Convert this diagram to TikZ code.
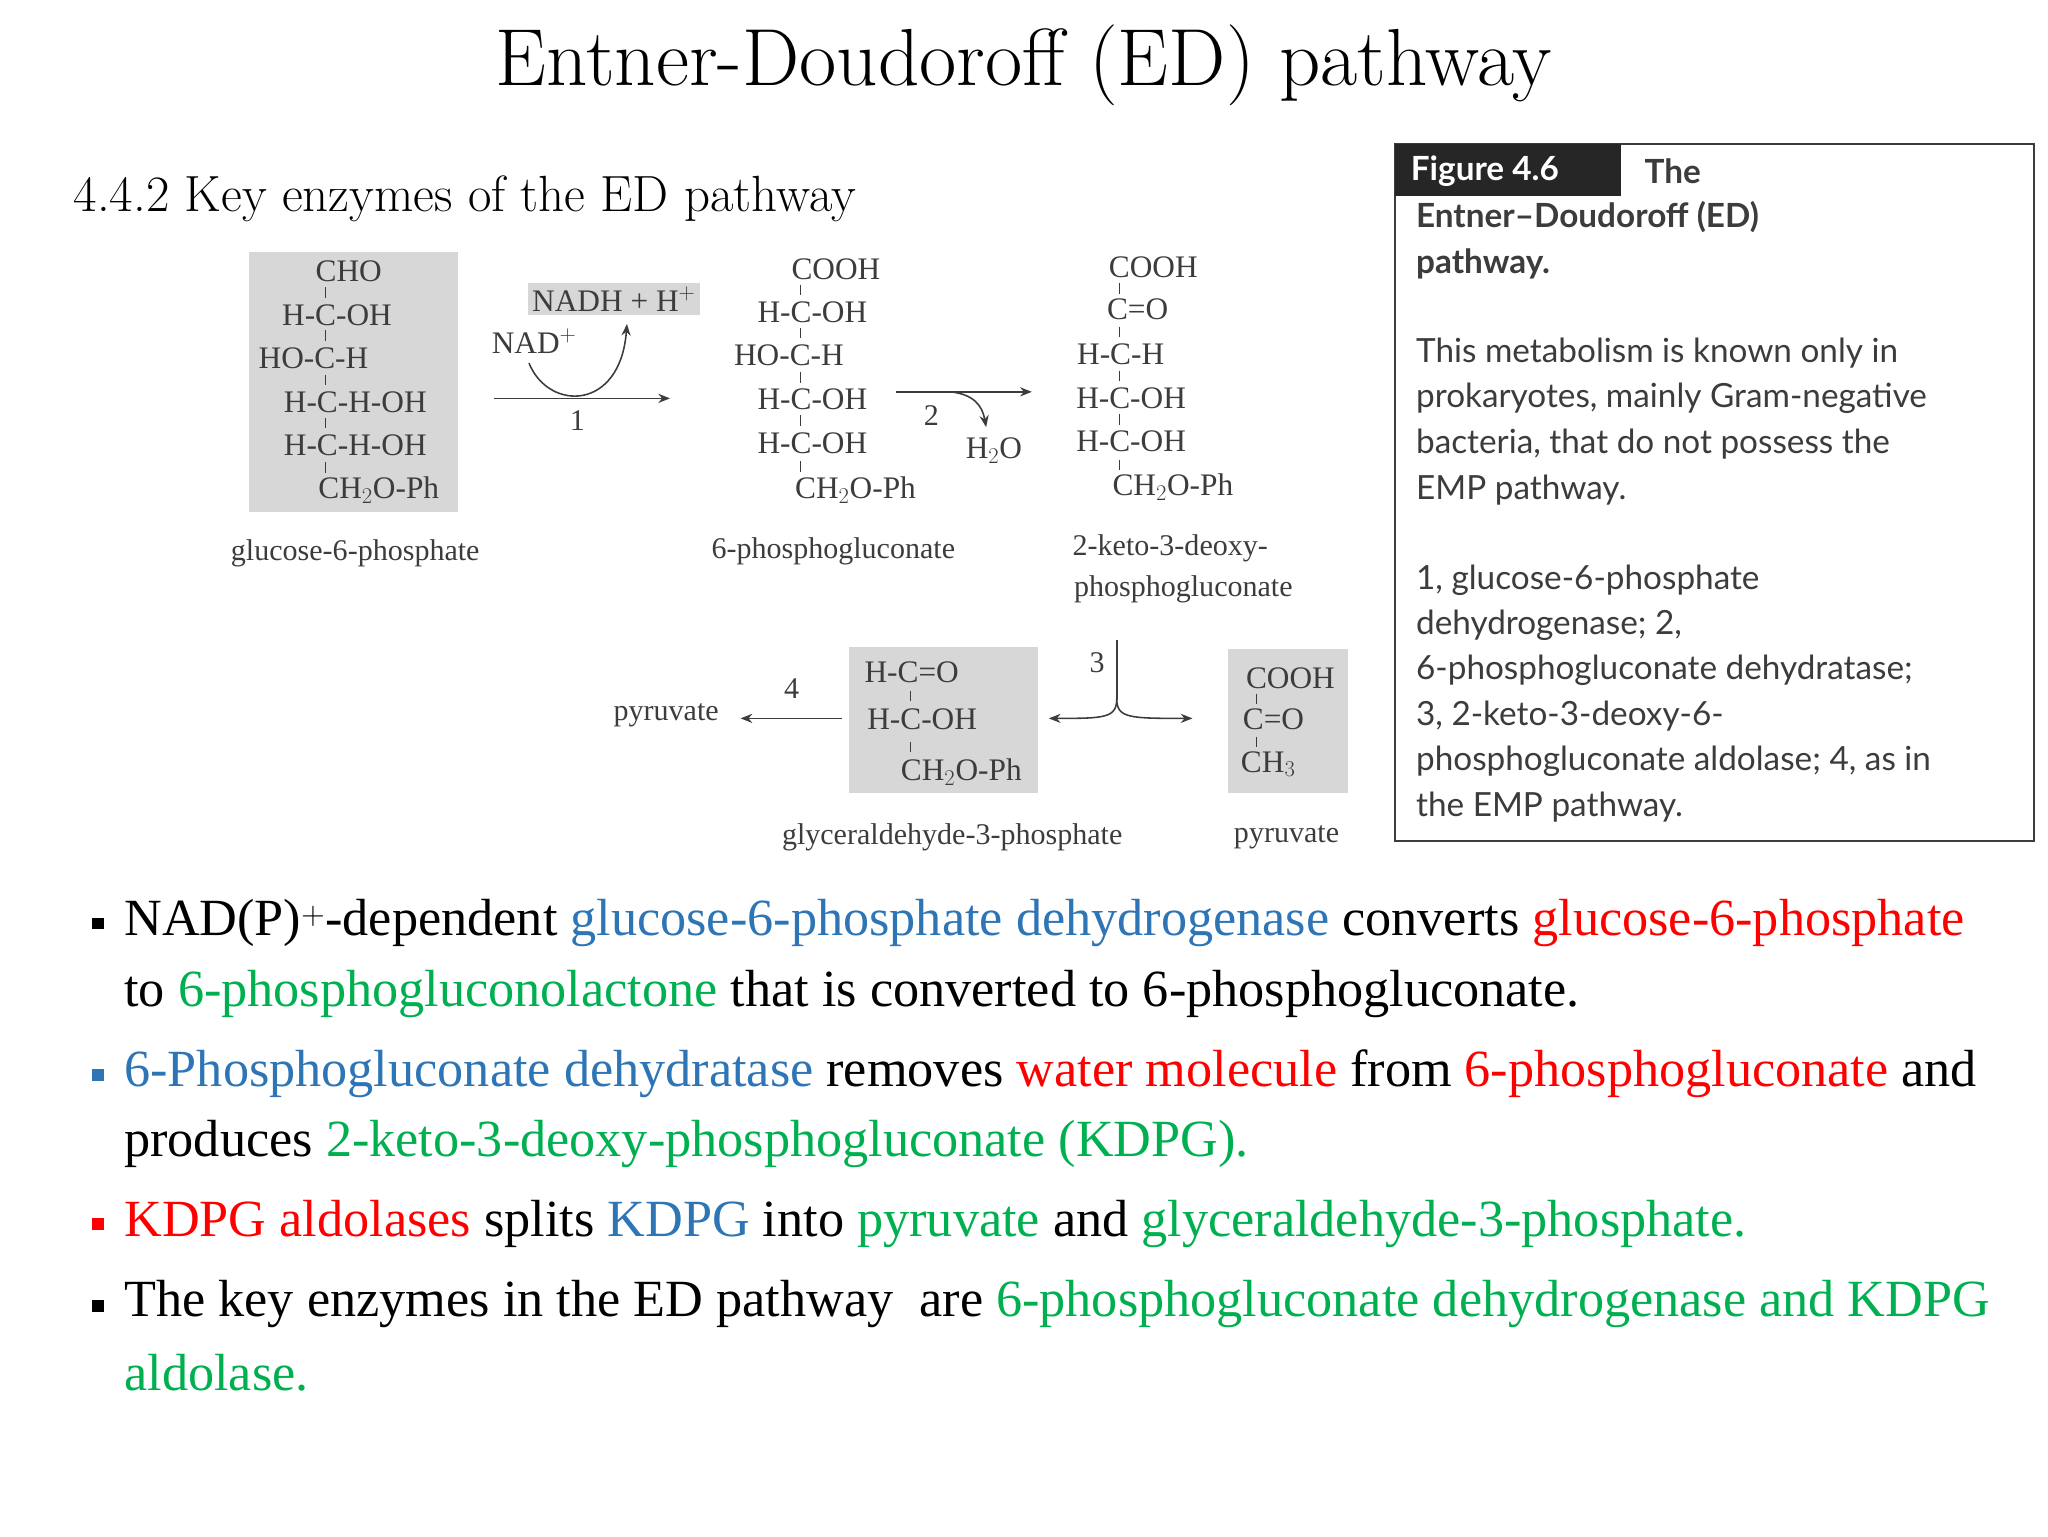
\documentclass[tikz,border=0pt]{standalone}
\usepackage{fontspec}
\setmainfont{Liberation Serif}
\newfontfamily\capfont{Lato}
\newfontfamily\headfont{Latin Modern Roman}
\definecolor{cblue}{RGB}{46,117,182}
\definecolor{cred}{RGB}{255,0,0}
\definecolor{cgreen}{RGB}{0,176,80}
\definecolor{chemgray}{RGB}{215,215,215}
\definecolor{txtgray}{RGB}{60,60,60}
\usetikzlibrary{arrows.meta}
\tikzset{
 chem/.style={font=\fontsize{24}{24}\selectfont, text=txtgray, inner sep=0pt},
 lbl/.style={font=\fontsize{23}{23}\selectfont, text=txtgray, inner sep=0pt},
 gbox/.style={fill=chemgray, draw=none},
 arr/.style={-{Stealth[length=9pt,width=7pt]}, line width=1.2pt, draw=txtgray},
 captxt/.style={font=\capfont\fontsize{25.5}{25.5}\selectfont, text=txtgray, anchor=west, inner sep=0pt},
 capbold/.style={captxt, font=\capfont\bfseries\fontsize{25.5}{25.5}\selectfont},
 bl/.style={font=\fontsize{40}{40}\selectfont, anchor=west, inner sep=0pt},
 bul/.style={fill=black, minimum size=9pt, inner sep=0pt},
}
\begin{document}
\begin{tikzpicture}[x=1pt,y=-1pt]
\useasboundingbox (0,0) rectangle (1568,1176);
\node[font=\headfont\fontsize{62}{62}\selectfont] (title) at (784,50) {Entner-Doudoroff (ED) pathway};
\node[font=\headfont\fontsize{39}{39}\selectfont, anchor=west] (head) at (53,152) {4.4.2 Key enzymes of the ED pathway};
% glucose-6-phosphate
\fill[gbox] (191,193) rectangle (351,392);
\node[chem] (g1) at (267,208) {CHO};
\node[chem] (g2) at (258,241) {H-C-OH};
\node[chem] (g3) at (240,274) {HO-C-H};
\node[chem] (g4) at (272,308) {H-C-H-OH};
\node[chem] (g5) at (272,341) {H-C-H-OH};
\node[chem] (g6) at (290,375) {CH$_2$O-Ph};
\foreach \y in {224,257,291,324,358} \draw[txtgray] (249,\y-4) -- (249,\y+4);
\node[lbl] (gl) at (272,424) {glucose-6-phosphate};
% step 1
\coordinate (a1s) at (378,305); \coordinate (a1e) at (513,305);
\draw[arr] (a1s) -- (a1e);
\node[lbl] (n1) at (442,322) {1};
\node[chem] (nad) at (409,261) {NAD$^+$};
\node[chem, fill=chemgray, inner sep=3pt] (nadh) at (470,229) {NADH + H$^+$};
\draw[arr] (405,278) .. controls (420,315) and (475,315) .. (480,248);
% 6-phosphogluconate
\node[chem] (p1) at (640,206) {COOH};
\node[chem] (p2) at (622,239) {H-C-OH};
\node[chem] (p3) at (604,272) {HO-C-H};
\node[chem] (p4) at (622,306) {H-C-OH};
\node[chem] (p5) at (622,339) {H-C-OH};
\node[chem] (p6) at (655,375) {CH$_2$O-Ph};
\foreach \y in {222,255,289,322,357} \draw[txtgray] (613,\y-4) -- (613,\y+4);
\node[lbl] (pl) at (638,422) {6-phosphogluconate};
% step 2
\coordinate (a2s) at (686,300); \coordinate (a2e) at (790,300);
\draw[arr] (a2s) -- (a2e);
\node[lbl] (n2) at (713,318) {2};
\node[chem] (h2o) at (761,345) {H$_2$O};
\draw[arr] (728,300) .. controls (745,302) and (752,310) .. (755,327);
% KDPG
\node[chem] (k1) at (883,205) {COOH};
\node[chem] (k2) at (871,237) {C=O};
\node[chem] (k3) at (858,271) {H-C-H};
\node[chem] (k4) at (866,305) {H-C-OH};
\node[chem] (k5) at (866,338) {H-C-OH};
\node[chem] (k6) at (898,373) {CH$_2$O-Ph};
\foreach \y in {221,254,288,321,356} \draw[txtgray] (857,\y-4) -- (857,\y+4);
\node[lbl] (kl1) at (896,420) {2-keto-3-deoxy-};
\node[lbl] (kl2) at (906,451) {phosphogluconate};
% step 3
\coordinate (s3) at (855,490);
\coordinate (s3m) at (855,535);
\node[lbl] (n3) at (840,507) {3};
\draw[line width=1.2pt, txtgray] (s3) -- (s3m);
\draw[arr] (s3m) .. controls (855,550) and (845,550) .. (803,550);
\draw[arr] (s3m) .. controls (855,550) and (865,550) .. (913,550);
% G3P
\fill[gbox] (650,495) rectangle (795,607);
\node[chem] (t1) at (698,515) {H-C=O};
\node[chem] (t2) at (706,551) {H-C-OH};
\node[chem] (t3) at (736,591) {CH$_2$O-Ph};
\foreach \y in {533,572} \draw[txtgray] (697,\y-4) -- (697,\y+4);
\node[lbl] (tl) at (729,641) {glyceraldehyde-3-phosphate};
% step 4
\node[lbl] (pyr1) at (510,548) {pyruvate};
\coordinate (a4s) at (645,550);
\coordinate (a4e) at (567,550);
\draw[arr] (a4s) -- (a4e);
\node[lbl] (n4) at (606,527) {4};
% pyruvate
\fill[gbox] (940,497) rectangle (1032,607);
\node[chem] (y1) at (988,519) {COOH};
\node[chem] (y2) at (975,551) {C=O};
\node[chem] (y3) at (971,585) {CH$_3$};
\foreach \y in {535,568} \draw[txtgray] (962,\y-4) -- (962,\y+4);
\node[lbl] (yl) at (985,641) {pyruvate};
% figure box
\draw[line width=1.5pt, txtgray] (1068,110) rectangle (1557,644);
\fill[black!85] (1068,110) rectangle (1241,150);
\node[capbold, text=white] (f1) at (1080,131) {Figure 4.6};
\node[capbold] (f2) at (1259,131) {The};
\node[capbold] (f3) at (1084,166) {Entner\textendash Doudoroff (ED)};
\node[capbold] (f4) at (1084,202) {pathway.};
\node[captxt] (c1) at (1084,270) {This metabolism is known only in};
\node[captxt] (c2) at (1084,305) {prokaryotes, mainly Gram-negative};
\node[captxt] (c3) at (1084,340) {bacteria, that do not possess the};
\node[captxt] (c4) at (1084,375) {EMP pathway.};
\node[captxt] (c5) at (1084,444) {1, glucose-6-phosphate};
\node[captxt] (c6) at (1084,479) {dehydrogenase; 2,};
\node[captxt] (c7) at (1084,513) {6-phosphogluconate dehydratase;};
\node[captxt] (c8) at (1084,548) {3, 2-keto-3-deoxy-6-};
\node[captxt] (c9) at (1084,583) {phosphogluconate aldolase; 4, as in};
\node[captxt] (c10) at (1084,618) {the EMP pathway.};
% bullets
\node[bul] (b1) at (75,707) {};
\node[bul, fill=cblue] (b2) at (75,823) {};
\node[bul, fill=cred] (b3) at (75,937) {};
\node[bul] (b4) at (75,1000) {};
\node[bl] (l1) at (95,707) {NAD(P)$^{+}$-dependent \textcolor{cblue}{glucose-6-phosphate dehydrogenase} converts \textcolor{cred}{glucose-6-phosphate}};
\node[bl] (l2) at (95,761) {to \textcolor{cgreen}{6-phosphogluconolactone} that is converted to 6-phosphogluconate.};
\node[bl] (l3) at (95,822) {\textcolor{cblue}{6-Phosphogluconate dehydratase} removes \textcolor{cred}{water molecule} from \textcolor{cred}{6-phosphogluconate} and};
\node[bl] (l4) at (95,876) {produces \textcolor{cgreen}{2-keto-3-deoxy-phosphogluconate (KDPG).}};
\node[bl] (l5) at (95,937) {\textcolor{cred}{KDPG aldolases} splits \textcolor{cblue}{KDPG} into \textcolor{cgreen}{pyruvate} and \textcolor{cgreen}{glyceraldehyde-3-phosphate.}};
\node[bl] (l6) at (95,998) {The key enzymes in the ED pathway\ \ are \textcolor{cgreen}{6-phosphogluconate dehydrogenase and KDPG}};
\node[bl] (l7) at (95,1051) {\textcolor{cgreen}{aldolase.}};
\end{tikzpicture}
\end{document}
